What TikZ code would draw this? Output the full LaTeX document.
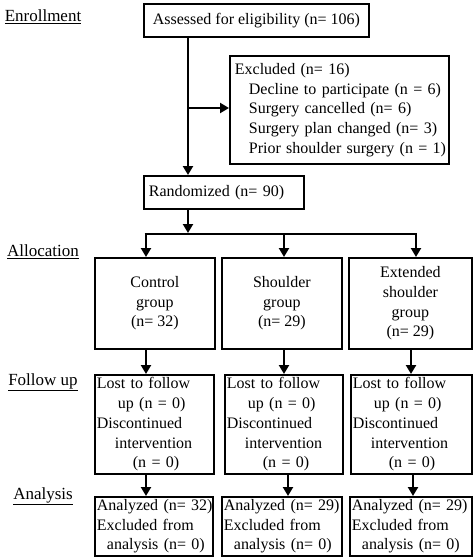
\documentclass[tikz,border=0pt]{standalone}
\usepackage{fontspec}
\setmainfont{Liberation Serif}
\usetikzlibrary{arrows.meta}
\newcommand\oneln[1]{\mbox{#1}}
\begin{document}
\begin{tikzpicture}[x=1pt,y=-1pt,
  box/.style={draw, line width=1.8pt, inner sep=3pt, font=\fontsize{16}{19.7}\selectfont, anchor=north west},
  head/.style={font=\fontsize{17}{20}\selectfont, inner sep=0pt},
  arr/.style={line width=2.6pt, -{Triangle[length=9pt,width=10pt]}},
  ln/.style={line width=2.6pt}]
\useasboundingbox (0,0) rectangle (474,559);
% headings
\node[head] (h1) at (43,17) {\underline{Enrollment}};
\node[head] (h2) at (43,252) {\underline{Allocation}};
\node[head] (h3) at (43,382) {\underline{Follow up}};
\node[head] (h4) at (43,496) {\underline{Analysis}};
% boxes
\node[box, minimum width=225pt, minimum height=33pt] (assess) at (143,3) {Assessed for eligibility (n= 106)};
\node[box, minimum width=219pt, minimum height=108pt, text width=209pt, align=left, inner sep=5pt] (excl) at (229,55)
  {\oneln{Excluded (n= 16)}\\
   \oneln{\hspace*{14pt}Decline to participate (n = 6)}\\
   \oneln{\hspace*{14pt}Surgery cancelled (n= 6)}\\
   \oneln{\hspace*{14pt}Surgery plan changed (n= 3)}\\
   \oneln{\hspace*{14pt}Prior shoulder surgery (n = 1)}};
\node[box, minimum width=160pt, minimum height=33pt, text width=150pt, align=left, inner sep=5pt] (rand) at (143,175) {Randomized (n= 90)};
\node[box, minimum width=120pt, minimum height=91pt, align=center] (g1) at (94,257) {Control\\group\\(n= 32)};
\node[box, minimum width=120pt, minimum height=91pt, align=center] (g2) at (221,257) {Shoulder\\group\\(n= 29)};
\node[box, minimum width=123pt, minimum height=91pt, align=center] (g3) at (348,257) {Extended\\shoulder\\group\\(n= 29)};
\node[box, minimum width=119pt, minimum height=99pt, text width=115pt, align=left, inner sep=2pt] (f1) at (94,374)
  {\oneln{Lost to follow}\\\oneln{\hspace*{21pt}up (n = 0)}\\\oneln{Discontinued}\\\oneln{\hspace*{18pt}intervention}\\\oneln{\hspace*{36pt}(n = 0)}};
\node[box, minimum width=118pt, minimum height=99pt, text width=114pt, align=left, inner sep=2pt] (f2) at (224,374)
  {\oneln{Lost to follow}\\\oneln{\hspace*{21pt}up (n = 0)}\\\oneln{Discontinued}\\\oneln{\hspace*{18pt}intervention}\\\oneln{\hspace*{36pt}(n = 0)}};
\node[box, minimum width=121pt, minimum height=99pt, text width=117pt, align=left, inner sep=2pt] (f3) at (350,374)
  {\oneln{Lost to follow}\\\oneln{\hspace*{21pt}up (n = 0)}\\\oneln{Discontinued}\\\oneln{\hspace*{18pt}intervention}\\\oneln{\hspace*{36pt}(n = 0)}};
\node[box, minimum width=118pt, minimum height=59pt, text width=114pt, align=left, inner sep=2pt] (a1) at (94,496)
  {\oneln{Analyzed (n= 32)}\\\oneln{Excluded from}\\\oneln{\hspace*{10pt}analysis (n= 0)}};
\node[box, minimum width=120pt, minimum height=59pt, text width=116pt, align=left, inner sep=2pt] (a2) at (221,496)
  {\oneln{Analyzed (n= 29)}\\\oneln{Excluded from}\\\oneln{\hspace*{10pt}analysis (n= 0)}};
\node[box, minimum width=122pt, minimum height=59pt, text width=118pt, align=left, inner sep=2pt] (a3) at (349,496)
  {\oneln{Analyzed (n= 29)}\\\oneln{Excluded from}\\\oneln{\hspace*{10pt}analysis (n= 0)}};
% coordinates
\coordinate (m) at (188,108);
\coordinate (b) at (188,234);
\coordinate (bl) at (146,234);
\coordinate (bm) at (284,234);
\coordinate (br) at (416,234);
% connectors
\draw[arr] (assess.south -| m) -- (rand.north -| m);
\draw[arr] (m) -- (excl.west |- m);
\draw[arr] (rand.south -| b) -- ([yshift=1pt]b);
\draw[ln] ([xshift=-1.3pt]bl) -- ([xshift=1.3pt]br);
\draw[arr] (bl) -- (g1.north -| bl);
\draw[arr] (bm) -- (g2.north -| bm);
\draw[arr] (br) -- (g3.north -| br);
\draw[arr] (g1.south -| 146,0) -- (f1.north -| 146,0);
\draw[arr] (g2.south -| 284,0) -- (f2.north -| 284,0);
\draw[arr] (g3.south -| 411,0) -- (f3.north -| 411,0);
\draw[arr] (f1.south -| 146,0) -- (a1.north -| 146,0);
\draw[arr] (f2.south -| 288,0) -- (a2.north -| 288,0);
\draw[arr] (f3.south -| 413,0) -- (a3.north -| 413,0);
\end{tikzpicture}
\end{document}
